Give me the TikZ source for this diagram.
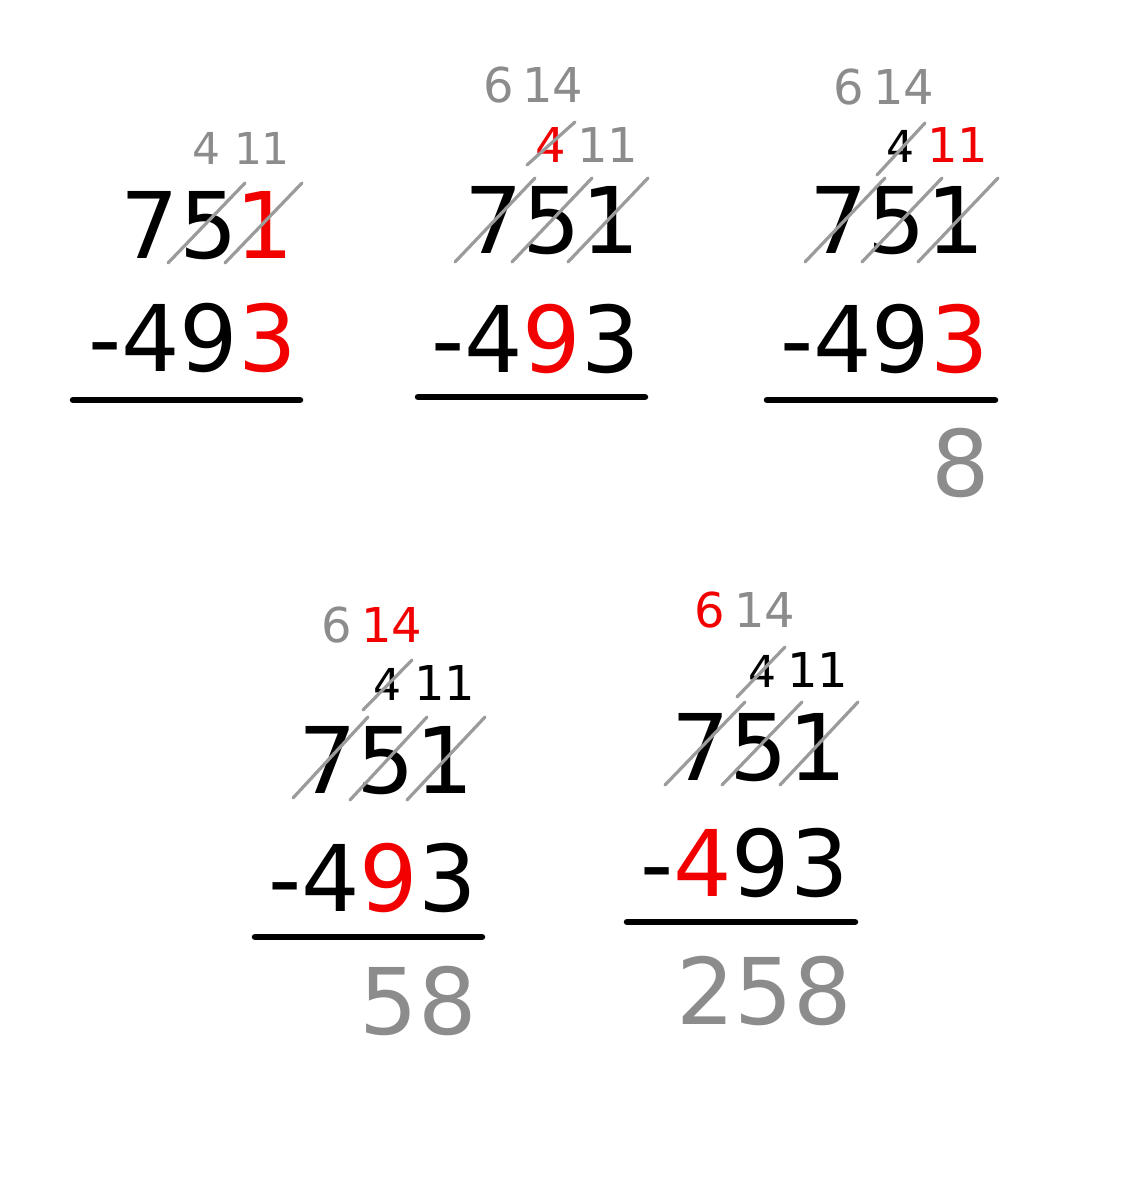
\documentclass[tikz,border=0pt]{standalone}
\usepackage{fontspec}
\setmainfont{DejaVu Sans}
\definecolor{tgray}{RGB}{140,140,140}
\definecolor{sgray}{RGB}{155,155,155}
\definecolor{tred}{RGB}{242,0,0}
\tikzset{
  big/.style={font=\fontsize{92}{100}\selectfont, inner sep=0pt, anchor=base east},
  res/.style={big, text=tgray},
  small/.style={font=\fontsize{48}{52}\selectfont, inner sep=0pt, anchor=base},
  smaller/.style={font=\fontsize{44}{48}\selectfont, inner sep=0pt, anchor=base},
  strike/.style={draw=sgray, line width=3.2pt, line cap=round},
  rulebar/.style={draw=black, line width=6.5pt, line cap=round},
}
\begin{document}
\begin{tikzpicture}[x=1pt,y=-1pt]
\useasboundingbox[fill=white] (0,0) rectangle (1133,1200);

% ---------- panel 1 ----------
\node[smaller, text=tgray] (p1a) at (206,164) {4};
\node[smaller, text=tgray] (p1b) at (262,164) {11};
\node[big] (p1top) at (238,258) {75};
\node[big, text=tred] (p1one) at (294,258) {1};
\node[big] (p1sub) at (297,371) {-49\textcolor{tred}{3}};
\draw[rulebar] (73,400) -- (300,400);
\draw[strike] (168,263) -- (245,183);
\draw[strike] (225,263) -- (302,183);

% ---------- panel 2 ----------
\node[small, text=tgray] (p2a) at (499,102) {6};
\node[small, text=tgray] (p2b) at (553,102) {14};
\node[small, text=tred] (p2c) at (551,162) {4};
\node[small, text=tgray] (p2d) at (608,162) {11};
\node[big] (p2top) at (640,253) {751};
\node[big] (p2sub) at (640,372) {-4\textcolor{tred}{9}3};
\draw[rulebar] (418,397) -- (645,397);
\draw[strike] (455,262) -- (535,178);
\draw[strike] (512,262) -- (592,178);
\draw[strike] (568,262) -- (648,178);
\draw[strike] (527,165) -- (575,122);

% ---------- panel 3 ----------
\node[small, text=tgray] (p3a) at (849,104) {6};
\node[small, text=tgray] (p3b) at (904,104) {14};
\node[smaller] (p3c) at (900,162) {4};
\node[small, text=tred] (p3d) at (958,162) {11};
\node[big] (p3top) at (985,253) {751};
\node[big] (p3sub) at (989,372) {-49\textcolor{tred}{3}};
\draw[rulebar] (767,400) -- (995,400);
\node[res] (p3res) at (990,496) {8};
\draw[strike] (805,262) -- (885,178);
\draw[strike] (862,262) -- (942,178);
\draw[strike] (918,262) -- (998,178);
\draw[strike] (877,175) -- (925,123);

% ---------- panel 4 ----------
\node[small, text=tgray] (p4a) at (337,642) {6};
\node[small, text=tred] (p4b) at (392,642) {14};
\node[smaller] (p4c) at (387,700) {4};
\node[small] (p4d) at (445,700) {11};
\node[big] (p4top) at (474,793) {751};
\node[big] (p4sub) at (477,911) {-4\textcolor{tred}{9}3};
\draw[rulebar] (255,937) -- (482,937);
\node[res] (p4res) at (477,1034) {58};
\draw[strike] (293,798) -- (368,717);
\draw[strike] (350,800) -- (427,717);
\draw[strike] (407,800) -- (485,717);
\draw[strike] (363,710) -- (412,660);

% ---------- panel 5 ----------
\node[small, text=tred] (p5a) at (710,627) {6};
\node[small, text=tgray] (p5b) at (765,627) {14};
\node[smaller] (p5c) at (762,687) {4};
\node[small] (p5d) at (818,687) {11};
\node[big] (p5top) at (847,780) {751};
\node[big] (p5sub) at (849,896) {-\textcolor{tred}{4}93};
\draw[rulebar] (627,922) -- (855,922);
\node[res] (p5res) at (852,1024) {258};
\draw[strike] (665,785) -- (745,702);
\draw[strike] (722,785) -- (802,702);
\draw[strike] (780,785) -- (858,702);
\draw[strike] (737,697) -- (785,647);
\end{tikzpicture}
\end{document}
